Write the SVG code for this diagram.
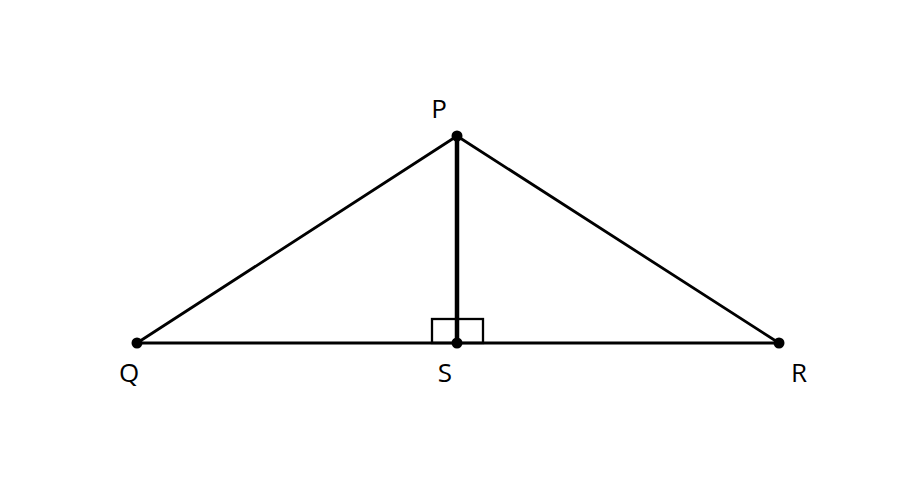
<svg xmlns="http://www.w3.org/2000/svg" width="917" height="502" viewBox="0 0 917 502">
<style>
.ln{stroke:#000;stroke-width:2.8;fill:none;stroke-linecap:round}
.alt{stroke:#000;stroke-width:4.5;fill:none}
.box{stroke:#000;stroke-width:2.3;fill:none}
.pt{fill:#000}
.lbl{font-family:"Open Sans","Liberation Sans",sans-serif;font-size:26px;fill:#000;text-anchor:middle}
</style>
<rect width="917" height="502" fill="#fff"/>
<g id="connectors">
<line class="ln" x1="137" y1="343" x2="779" y2="343"/>
<line class="ln" x1="137" y1="343" x2="457" y2="136"/>
<line class="ln" x1="457" y1="136" x2="779" y2="343"/>
<line class="alt" x1="457" y1="136" x2="457" y2="343"/>
<rect class="box" x="432" y="319" width="51" height="24"/>
</g>
<g id="P"><circle class="pt" cx="457" cy="136" r="5.5"/><text class="lbl" x="439" y="118">P</text></g>
<g id="Q"><circle class="pt" cx="137" cy="343" r="5.5"/><text class="lbl" x="129" y="382">Q</text></g>
<g id="S"><circle class="pt" cx="457" cy="343" r="5.5"/><text class="lbl" x="445" y="382">S</text></g>
<g id="R"><circle class="pt" cx="779" cy="343" r="5.5"/><text class="lbl" x="799" y="382">R</text></g>
</svg>
